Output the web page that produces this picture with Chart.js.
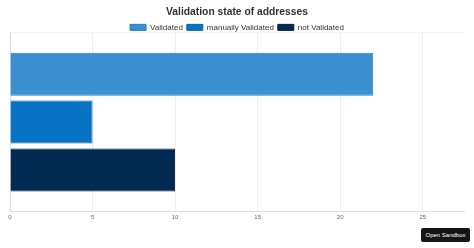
<!DOCTYPE html>
<html>
<head>
<meta charset="utf-8">
<script src="https://cdn.jsdelivr.net/npm/chart.js@4"></script>
<style>
  html, body { margin: 0; padding: 0; background: #fff; overflow: hidden; }
  #wrap { position: relative; width: 474px; height: 223px; }
  #btn { position: absolute; left: 421px; top: 228px; width: 49px; height: 14px; background: #151515; color: #fff;
         font: 6px "Liberation Sans", Arial, sans-serif; line-height: 14px; text-align: center; border-radius: 2px; }
</style>
</head>
<body>
<div id="wrap"><canvas id="c"></canvas></div>
<div id="btn">Open Sandbox</div>
<script>
const categories = [''];
const seriesNames = ['Validated', 'manually Validated', 'not Validated'];
const validated = [22];
const manuallyValidated = [5];
const notValidated = [10];
const fills = ['#3a8fd0', '#0873c4', '#002a52'];
const borders = ['#2a7cbd', '#0664ad', '#00213f'];
const xTicks = [0, 5, 10, 15, 20, 25];

Chart.defaults.font.family = '"Liberation Sans", Arial, sans-serif';
Chart.defaults.font.size = 6;
Chart.defaults.color = '#666';

const legendShrink = {
  id: 'legendShrink',
  beforeInit(chart) {
    const orig = chart.legend.fit;
    chart.legend.fit = function () { orig.call(this); this.height -= 9; };
  }
};

new Chart(document.getElementById('c'), {
  type: 'bar',
  data: {
    labels: categories,
    datasets: [validated, manuallyValidated, notValidated].map((d, i) => ({
      label: seriesNames[i], data: d, backgroundColor: fills[i], borderColor: borders[i], borderWidth: 1
    }))
  },
  options: {
    indexAxis: 'y',
    responsive: true,
    maintainAspectRatio: false,
    animation: false,
    layout: { padding: { left: 10, right: 10, top: 0, bottom: 0 } },
    plugins: {
      title: { display: true, text: 'Validation state of addresses', color: '#333',
               font: { size: 10.3, weight: 'bold' }, padding: { top: 6, bottom: 1 } },
      legend: { labels: { boxWidth: 16, boxHeight: 6, padding: 4, font: { size: 8 }, color: '#333' } },
      tooltip: { enabled: false }
    },
    scales: {
      x: {
        min: 0, max: 27.5,
        afterBuildTicks: s => { s.ticks = xTicks.map(v => ({ value: v })); },
        ticks: { font: { size: 6 }, color: '#666', padding: 2 },
        grid: { color: '#eee', tickLength: 0 },
        border: { color: '#ddd' }
      },
      y: {
        ticks: { display: false },
        grid: { color: '#f4f4f4', tickLength: 0 },
        border: { color: '#ddd' }
      }
    }
  },
  plugins: [legendShrink]
});
</script>
</body>
</html>
